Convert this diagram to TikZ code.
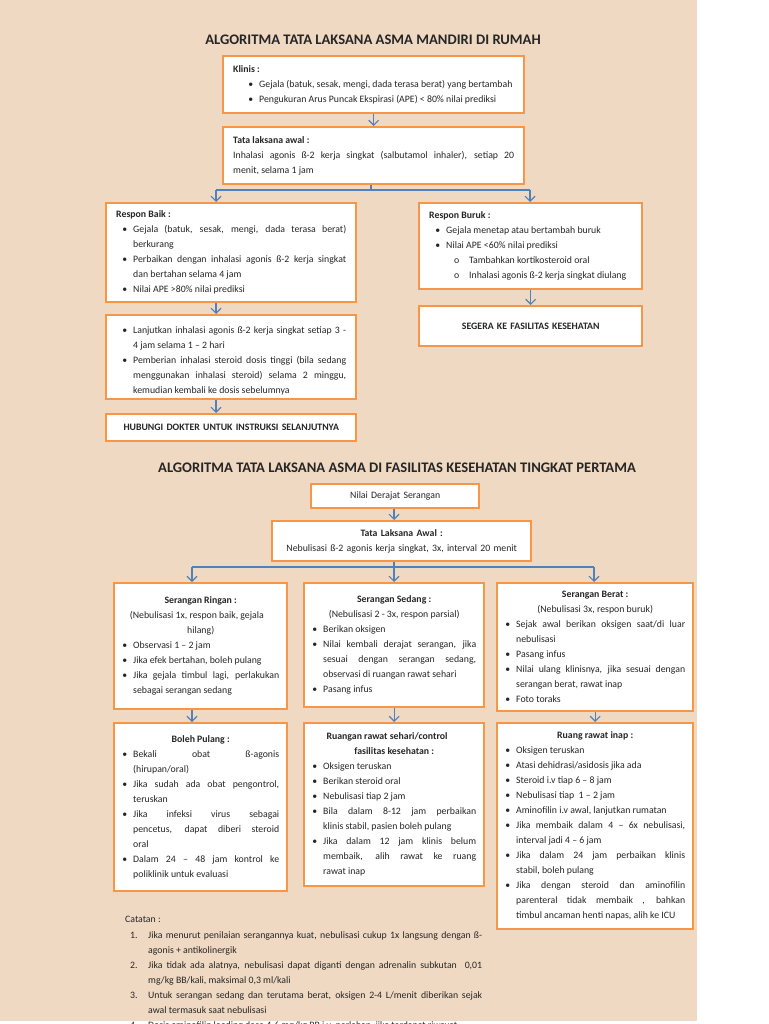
\documentclass[tikz,border=0pt]{standalone}
\usepackage{fontspec}
\setmainfont{Carlito}
\usetikzlibrary{arrows.meta,positioning}
\definecolor{paper}{HTML}{F0D9C2}
\definecolor{frame}{HTML}{F79646}
\definecolor{flow}{HTML}{4F81BD}
\definecolor{ink}{HTML}{262626}

\hyphenpenalty=10000
\tolerance=9999
\newdimen\itmskip
\newcommand\itm[1]{\par\leftskip=\itmskip\noindent\llap{\textbullet\hspace{6pt}}#1\par}
\newcommand\subitm[1]{\par\leftskip=40pt\noindent\llap{o\hspace{10pt}}#1\par}
\newcommand\hd[1]{{\leftskip=0pt plus 1fil\rightskip=0pt plus 1fil\parfillskip=0pt #1\par}}
\newcommand\nitem[2]{\par\leftskip=23pt\noindent\llap{\makebox[18pt][l]{#1}}#2\par}

\begin{document}
\begin{tikzpicture}[x=1pt, y=-1pt,
  box/.style={draw=frame, line width=2.4pt, fill=white, anchor=north west,
              inner xsep=10pt, inner ysep=0pt, align=justify, text=ink,
              font=\fontsize{9.8}{15}\selectfont,
              execute at begin node={\itmskip=17pt}},
  tight/.style={box, inner xsep=8pt, execute at begin node={\itmskip=11pt}},
  ttl/.style={font=\fontsize{14.6}{16}\selectfont\bfseries, text=ink},
  arr/.style={draw=flow, line width=1.1pt,
              -{Straight Barb[length=5pt,width=10pt,line width=1.1pt]}},
  link/.style={draw=flow, line width=1.1pt}
]
\useasboundingbox (0,0) rectangle (768,1024);
\clip (0,0) rectangle (768,1024);
\fill[paper] (0,0) rectangle (697,1021);

% --- mandiri di rumah ---
\node[ttl] (title1) at (373,40) {ALGORITMA TATA LAKSANA ASMA MANDIRI DI RUMAH};
\node[box, text width=281pt, minimum height=57pt,
      execute at begin node={\itmskip=26pt}] (klinis) at (222,55) {\textbf{Klinis :}\par
  \itm{Gejala (batuk, sesak, mengi, dada terasa berat) yang bertambah}
  \itm{Pengukuran Arus Puncak Ekspirasi (APE) < 80\% nilai prediksi}};
\node[box, text width=281pt, minimum height=57pt] (awal1) at (222,126) {\textbf{Tata laksana awal :}\par
  Inhalasi agonis ß-2 kerja singkat (salbutamol inhaler), setiap 20\linebreak menit, selama 1 jam};
\node[box, text width=230pt, minimum height=99pt] (baik) at (105,202) {\textbf{Respon Baik :}\par
  \itm{Gejala (batuk, sesak, mengi, dada terasa berat)\linebreak berkurang}
  \itm{Perbaikan dengan inhalasi agonis ß-2 kerja singkat\linebreak dan bertahan selama 4 jam}
  \itm{Nilai APE >80\% nilai prediksi}};
\node[box, text width=203pt, minimum height=86pt] (buruk) at (418,202) {\textbf{Respon Buruk :}\par
  \itm{Gejala menetap atau bertambah buruk}
  \itm{Nilai APE <60\% nilai prediksi}
  \subitm{Tambahkan kortikosteroid oral}
  \subitm{Inhalasi agonis ß-2 kerja singkat diulang}};
\node[box, text width=230pt, minimum height=84pt] (lanjut) at (105,314) {%
  \itm{Lanjutkan inhalasi agonis ß-2 kerja singkat setiap 3 -\linebreak 4 jam selama 1 – 2 hari}
  \itm{Pemberian inhalasi steroid dosis tinggi (bila sedang\linebreak menggunakan inhalasi steroid) selama 2 minggu,\linebreak kemudian kembali ke dosis sebelumnya}};
\node[box, text width=230pt, minimum height=27pt, align=center,
      font=\fontsize{9.8}{15}\selectfont\bfseries] (dokter) at (105,413) {HUBUNGI DOKTER UNTUK INSTRUKSI SELANJUTNYA};
\node[box, text width=203pt, minimum height=40pt, align=center,
      font=\fontsize{9.8}{15}\selectfont\bfseries] (segera) at (418,305) {SEGERA KE FASILITAS KESEHATAN};

\coordinate (fork1) at (371,190);
\coordinate (left1) at (216,190);
\coordinate (right1) at (530,190);
\draw[arr] (klinis) -- (awal1);
\draw[link] (fork1 |- awal1.south) -- (fork1);
\draw[link] (left1) -- (right1);
\draw[arr] (left1) -- (left1 |- baik.north);
\draw[arr] (right1) -- (right1 |- buruk.north);
\draw[arr] (left1 |- baik.south) -- (left1 |- lanjut.north);
\draw[arr] (left1 |- lanjut.south) -- (left1 |- dokter.north);
\draw[arr] (buruk) -- (segera);

% --- fasilitas kesehatan tingkat pertama ---
\node[ttl] (title2) at (397,468) {ALGORITMA TATA LAKSANA ASMA DI FASILITAS KESEHATAN TINGKAT PERTAMA};
\node[box, text width=148pt, minimum height=24pt, align=center] (derajat) at (310,483) {Nilai Derajat Serangan};
\node[box, text width=239pt, minimum height=40pt, align=center] (awal2) at (271,520) {\textbf{Tata Laksana Awal :}\\
  Nebulisasi ß-2 agonis kerja singkat, 3x, interval 20 menit};
\node[tight, text width=157pt, minimum height=126pt] (ringan) at (113,582) {%
  \hd{\textbf{Serangan Ringan :}}
  \hd{(Nebulisasi 1x, respon baik, gejala\\ hilang)}
  \itm{Observasi 1 – 2 jam}
  \itm{Jika efek bertahan, boleh pulang}
  \itm{Jika gejala timbul lagi, perlakukan\linebreak sebagai serangan sedang}};
\node[tight, text width=164pt, minimum height=124pt] (sedang) at (303,582) {%
  \hd{\textbf{Serangan Sedang :}}
  \hd{(Nebulisasi 2 - 3x, respon parsial)}
  \itm{Berikan oksigen}
  \itm{Nilai kembali derajat serangan, jika\linebreak sesuai dengan serangan sedang,\linebreak observasi di ruangan rawat sehari}
  \itm{Pasang infus}};
\node[tight, text width=180pt, minimum height=128pt] (berat) at (496,582) {%
  \hd{\textbf{Serangan Berat :}}
  \hd{(Nebulisasi 3x, respon buruk)}
  \itm{Sejak awal berikan oksigen saat/di luar\linebreak nebulisasi}
  \itm{Pasang infus}
  \itm{Nilai ulang klinisnya, jika sesuai dengan\linebreak serangan berat, rawat inap}
  \itm{Foto toraks}};
\node[tight, text width=157pt, minimum height=168pt] (pulang) at (113,722) {%
  \hd{\textbf{Boleh Pulang :}}
  \itm{Bekali obat ß-agonis\linebreak (hirupan/oral)}
  \itm{Jika sudah ada obat pengontrol,\linebreak teruskan}
  \itm{Jika infeksi virus sebagai\linebreak pencetus, dapat diberi steroid\linebreak oral}
  \itm{Dalam 24 – 48 jam kontrol ke\linebreak poliklinik untuk evaluasi}};
\node[tight, text width=164pt, minimum height=163pt] (sehari) at (303,722) {%
  \hd{\textbf{Ruangan rawat sehari/control\\ fasilitas kesehatan :}}
  \itm{Oksigen teruskan}
  \itm{Berikan steroid oral}
  \itm{Nebulisasi tiap 2 jam}
  \itm{Bila dalam 8-12 jam perbaikan\linebreak klinis stabil, pasien boleh pulang}
  \itm{Jika dalam 12 jam klinis belum\linebreak membaik, alih rawat ke ruang\linebreak rawat inap}};
\node[tight, text width=180pt, minimum height=206pt] (inap) at (496,722) {%
  \hd{\textbf{Ruang rawat inap :}}
  \itm{Oksigen teruskan}
  \itm{Atasi dehidrasi/asidosis jika ada}
  \itm{Steroid i.v tiap 6 – 8 jam}
  \itm{Nebulisasi tiap\ \ 1 – 2 jam}
  \itm{Aminofilin i.v awal, lanjutkan rumatan}
  \itm{Jika membaik dalam 4 – 6x nebulisasi,\linebreak interval jadi 4 – 6 jam}
  \itm{Jika dalam 24 jam perbaikan klinis\linebreak stabil, boleh pulang}
  \itm{Jika dengan steroid dan aminofilin\linebreak parenteral tidak membaik , bahkan\linebreak timbul ancaman henti napas, alih ke ICU}};

\coordinate (fork2) at (394,567);
\coordinate (left2) at (192,567);
\coordinate (right2) at (594,567);
\draw[arr] (fork2 |- derajat.south) -- (fork2 |- awal2.north);
\draw[link] (fork2 |- awal2.south) -- (fork2);
\draw[link] (left2) -- (right2);
\draw[arr] (left2) -- (left2 |- ringan.north);
\draw[arr] (fork2) -- (fork2 |- sedang.north);
\draw[arr] (right2) -- (right2 |- berat.north);
\draw[arr] (left2 |- ringan.south) -- (left2 |- pulang.north);
\draw[arr] (sedang) -- (sehari);
\draw[arr] (berat) -- (inap);

% catatan
\node[anchor=north west, inner sep=0pt, text width=357pt, align=justify, text=ink,
      font=\fontsize{9.8}{15}\selectfont] (catatan) at (125,916) {Catatan :\par\vspace{1pt}
  \nitem{1.}{Jika menurut penilaian serangannya kuat, nebulisasi cukup 1x langsung dengan ß-\linebreak agonis + antikolinergik}
  \nitem{2.}{Jika tidak ada alatnya, nebulisasi dapat diganti dengan adrenalin subkutan\ \ 0,01\linebreak mg/kg BB/kali, maksimal 0,3 ml/kali}
  \nitem{3.}{Untuk serangan sedang dan terutama berat, oksigen 2-4 L/menit diberikan sejak\linebreak awal termasuk saat nebulisasi}
  \nitem{4.}{Dosis aminofilin loading dose 4-6 mg/kg BB i.v. perlahan, jika terdapat riwayat}};
\end{tikzpicture}
\end{document}
